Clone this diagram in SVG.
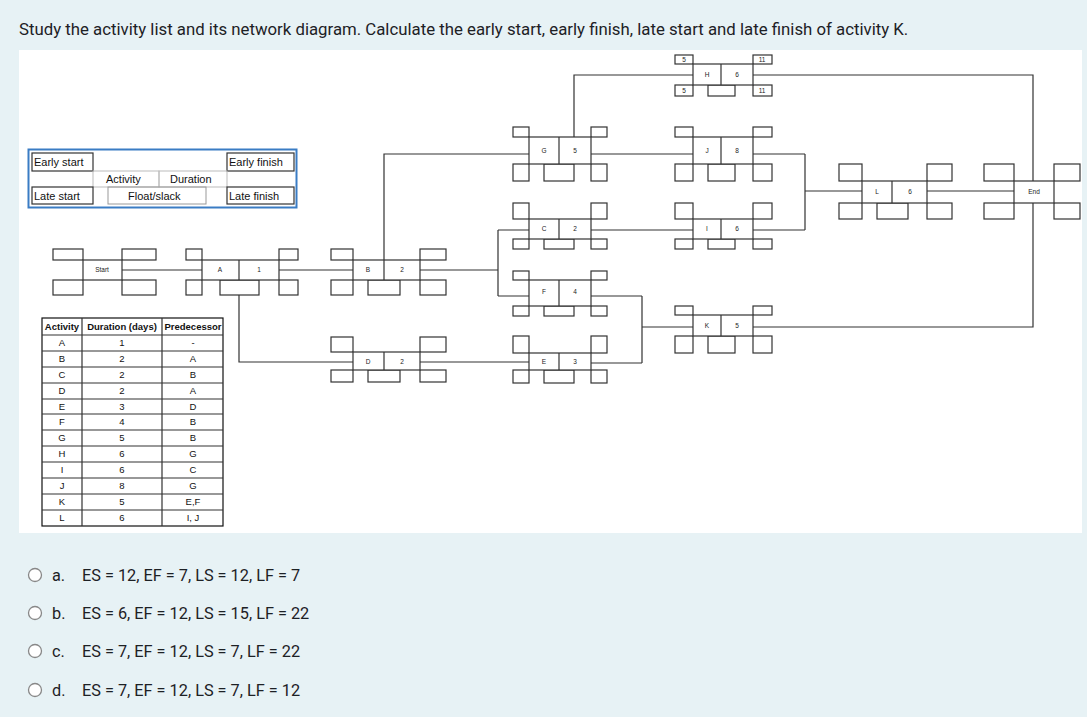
<svg xmlns="http://www.w3.org/2000/svg" width="1087" height="717" viewBox="0 0 1087 717">
<style>
.b{fill:#fff;stroke:#333;stroke-width:1.2}
.c{fill:none;stroke:#333;stroke-width:1.2}
.nl{font-family:"Liberation Sans",Arial,sans-serif;font-size:6.5px;fill:#222;text-anchor:middle}
.lg{font-family:"Liberation Sans",Arial,sans-serif;font-size:11px;fill:#111}
.tb{font-family:"Liberation Sans",Arial,sans-serif;font-size:9.5px;fill:#111;text-anchor:middle}
.q{font-family:Roboto,"Liberation Sans",sans-serif;font-size:16.8px;fill:#1d2125}
.o{font-family:Roboto,"Liberation Sans",sans-serif;font-size:16.3px;fill:#1d2125}
</style>
<rect width="1087" height="717" fill="#e7f2f5"/>
<text class="q" x="19" y="35">Study the activity list and its network diagram. Calculate the early start, early finish, late start and late finish of activity K.</text>
<rect x="19" y="50" width="1063" height="483" fill="#fff"/>

<g id="legend">
<rect x="28.5" y="149.5" width="268" height="58" fill="#fff" stroke="#3a7cc4" stroke-width="2"/>
<rect x="32" y="153" width="61" height="18" class="b"/>
<rect x="227" y="153" width="67" height="18" class="b"/>
<rect x="93" y="171" width="66" height="16" fill="none" stroke="#bbb"/>
<rect x="159" y="171" width="68" height="16" fill="none" stroke="#bbb"/>
<rect x="32" y="187" width="61" height="17" class="b"/>
<rect x="108" y="187" width="98" height="17" fill="none" stroke="#999"/>
<rect x="227" y="187" width="67" height="17" class="b"/>
<text class="lg" x="34" y="166">Early start</text>
<text class="lg" x="229" y="166">Early finish</text>
<text class="lg" x="106" y="183">Activity</text>
<text class="lg" x="170" y="183">Duration</text>
<text class="lg" x="34" y="200">Late start</text>
<text class="lg" x="128" y="200">Float/slack</text>
<text class="lg" x="229" y="200">Late finish</text>
</g>

<g id="table">
<rect x="42" y="318" width="181" height="208" fill="#fff" stroke="#111" stroke-width="1.2"/>
<path class="c" d="M82 318V526M162 318V526M42 335H223M42 351H223M42 367H223M42 383H223M42 399H223M42 414H223M42 430H223M42 446H223M42 462H223M42 478H223M42 494H223M42 510H223"/>
<g font-weight="bold"><text class="tb" x="62" y="330">Activity</text><text class="tb" x="122" y="330">Duration (days)</text><text class="tb" x="193" y="330">Predecessor</text></g>
<text class="tb" x="62" y="346">A</text><text class="tb" x="122" y="346">1</text><text class="tb" x="193" y="346">-</text>
<text class="tb" x="62" y="362">B</text><text class="tb" x="122" y="362">2</text><text class="tb" x="193" y="362">A</text>
<text class="tb" x="62" y="378">C</text><text class="tb" x="122" y="378">2</text><text class="tb" x="193" y="378">B</text>
<text class="tb" x="62" y="394">D</text><text class="tb" x="122" y="394">2</text><text class="tb" x="193" y="394">A</text>
<text class="tb" x="62" y="410">E</text><text class="tb" x="122" y="410">3</text><text class="tb" x="193" y="410">D</text>
<text class="tb" x="62" y="425">F</text><text class="tb" x="122" y="425">4</text><text class="tb" x="193" y="425">B</text>
<text class="tb" x="62" y="441">G</text><text class="tb" x="122" y="441">5</text><text class="tb" x="193" y="441">B</text>
<text class="tb" x="62" y="457">H</text><text class="tb" x="122" y="457">6</text><text class="tb" x="193" y="457">G</text>
<text class="tb" x="62" y="473">I</text><text class="tb" x="122" y="473">6</text><text class="tb" x="193" y="473">C</text>
<text class="tb" x="62" y="489">J</text><text class="tb" x="122" y="489">8</text><text class="tb" x="193" y="489">G</text>
<text class="tb" x="62" y="505">K</text><text class="tb" x="122" y="505">5</text><text class="tb" x="193" y="505">E,F</text>
<text class="tb" x="62" y="521">L</text><text class="tb" x="122" y="521">6</text><text class="tb" x="193" y="521">I, J</text>
</g>

<g id="connectors" class="c">
<path class="c" d="M122 270H202M279 270H353M239 295V362H353M384 280V154H529M420 270H498M498 230V296M498 230H529M498 296H529M420 362H529"/>
<path class="c" d="M574 137V75H693M591 154H693M591 230H693M591 296H642M591 363H642M642 296V363M642 327H693"/>
<path class="c" d="M753 154H805M753 230H805M805 154V230M805 191H862M927 191H1014M753 75H1033V181M753 327H1033V203"/>
</g>

<g id="node-start">
<rect class="b" x="53" y="249" width="30" height="11"/><rect class="b" x="122" y="249" width="34" height="11"/>
<rect class="b" x="53" y="280" width="30" height="15"/><rect class="b" x="122" y="280" width="34" height="15"/>
<rect class="b" x="83" y="260" width="39" height="20"/>
<text class="nl" x="102" y="272">Start</text>
</g>
<g id="node-A">
<rect class="b" x="186" y="249" width="16" height="11"/><rect class="b" x="279" y="249" width="19" height="11"/>
<rect class="b" x="186" y="280" width="16" height="15"/><rect class="b" x="279" y="280" width="19" height="15"/>
<rect class="b" x="220" y="280" width="39" height="15"/>
<rect class="b" x="202" y="260" width="77" height="20"/><path class="c" d="M239 260V280"/>
<text class="nl" x="220" y="272">A</text><text class="nl" x="259" y="272">1</text>
</g>
<g id="node-B">
<rect class="b" x="331" y="249" width="22" height="11"/><rect class="b" x="420" y="249" width="26" height="11"/>
<rect class="b" x="331" y="280" width="22" height="15"/><rect class="b" x="420" y="280" width="26" height="15"/>
<rect class="b" x="368" y="280" width="32" height="15"/>
<rect class="b" x="353" y="260" width="67" height="20"/><path class="c" d="M384 260V280"/>
<text class="nl" x="368" y="272">B</text><text class="nl" x="402" y="272">2</text>
</g>
<g id="node-D">
<rect class="b" x="331" y="337" width="22" height="15"/><rect class="b" x="420" y="337" width="26" height="15"/>
<rect class="b" x="331" y="370" width="22" height="12"/><rect class="b" x="420" y="370" width="26" height="12"/>
<rect class="b" x="368" y="370" width="32" height="12"/>
<rect class="b" x="353" y="352" width="67" height="18"/><path class="c" d="M384 352V370"/>
<text class="nl" x="368" y="364">D</text><text class="nl" x="402" y="364">2</text>
</g>
<g id="node-G">
<rect class="b" x="513" y="127" width="16" height="10"/><rect class="b" x="591" y="127" width="16" height="10"/>
<rect class="b" x="513" y="164" width="16" height="17"/><rect class="b" x="591" y="164" width="16" height="17"/>
<rect class="b" x="544" y="164" width="30" height="17"/>
<rect class="b" x="529" y="137" width="62" height="27"/><path class="c" d="M559 137V164"/>
<text class="nl" x="544" y="153">G</text><text class="nl" x="575" y="153">5</text>
</g>
<g id="node-C">
<rect class="b" x="513" y="203" width="16" height="16"/><rect class="b" x="591" y="203" width="16" height="16"/>
<rect class="b" x="513" y="239" width="16" height="10"/><rect class="b" x="591" y="239" width="16" height="10"/>
<rect class="b" x="544" y="239" width="30" height="10"/>
<rect class="b" x="529" y="219" width="62" height="20"/><path class="c" d="M559 219V239"/>
<text class="nl" x="544" y="231">C</text><text class="nl" x="575" y="231">2</text>
</g>
<g id="node-F">
<rect class="b" x="513" y="271" width="16" height="9"/><rect class="b" x="591" y="271" width="16" height="9"/>
<rect class="b" x="513" y="306" width="16" height="10"/><rect class="b" x="591" y="306" width="16" height="10"/>
<rect class="b" x="544" y="306" width="30" height="10"/>
<rect class="b" x="529" y="280" width="62" height="26"/><path class="c" d="M559 280V306"/>
<text class="nl" x="544" y="294">F</text><text class="nl" x="575" y="294">4</text>
</g>
<g id="node-E">
<rect class="b" x="513" y="336" width="16" height="17"/><rect class="b" x="591" y="336" width="16" height="17"/>
<rect class="b" x="513" y="370" width="16" height="13"/><rect class="b" x="591" y="370" width="16" height="13"/>
<rect class="b" x="544" y="370" width="30" height="13"/>
<rect class="b" x="529" y="353" width="62" height="17"/><path class="c" d="M559 353V370"/>
<text class="nl" x="544" y="364">E</text><text class="nl" x="575" y="364">3</text>
</g>
<g id="node-H">
<rect class="b" x="675" y="55" width="18" height="9"/><rect class="b" x="753" y="55" width="19" height="9"/>
<rect class="b" x="675" y="85" width="18" height="11"/><rect class="b" x="753" y="85" width="19" height="11"/>
<rect class="b" x="708" y="85" width="27" height="11"/>
<rect class="b" x="693" y="64" width="60" height="21"/><path class="c" d="M721 64V85"/>
<text class="nl" x="707" y="77">H</text><text class="nl" x="737" y="77">6</text>
<text class="nl" x="684" y="62">5</text><text class="nl" x="762" y="62">11</text>
<text class="nl" x="684" y="93">5</text><text class="nl" x="762" y="93">11</text>
</g>
<g id="node-J">
<rect class="b" x="675" y="127" width="18" height="10"/><rect class="b" x="753" y="127" width="19" height="10"/>
<rect class="b" x="675" y="164" width="18" height="17"/><rect class="b" x="753" y="164" width="19" height="17"/>
<rect class="b" x="708" y="164" width="27" height="17"/>
<rect class="b" x="693" y="137" width="60" height="27"/><path class="c" d="M721 137V164"/>
<text class="nl" x="707" y="153">J</text><text class="nl" x="737" y="153">8</text>
</g>
<g id="node-I">
<rect class="b" x="675" y="203" width="18" height="16"/><rect class="b" x="753" y="203" width="19" height="16"/>
<rect class="b" x="675" y="239" width="18" height="10"/><rect class="b" x="753" y="239" width="19" height="10"/>
<rect class="b" x="708" y="239" width="27" height="10"/>
<rect class="b" x="693" y="219" width="60" height="20"/><path class="c" d="M721 219V239"/>
<text class="nl" x="707" y="231">I</text><text class="nl" x="737" y="231">6</text>
</g>
<g id="node-K">
<rect class="b" x="675" y="306" width="18" height="9"/><rect class="b" x="753" y="306" width="19" height="9"/>
<rect class="b" x="675" y="336" width="18" height="17"/><rect class="b" x="753" y="336" width="19" height="17"/>
<rect class="b" x="708" y="336" width="27" height="17"/>
<rect class="b" x="693" y="315" width="60" height="21"/><path class="c" d="M721 315V336"/>
<text class="nl" x="707" y="328">K</text><text class="nl" x="737" y="328">5</text>
</g>
<g id="node-L">
<rect class="b" x="839" y="164" width="23" height="17"/><rect class="b" x="927" y="164" width="25" height="17"/>
<rect class="b" x="839" y="203" width="23" height="16"/><rect class="b" x="927" y="203" width="25" height="16"/>
<rect class="b" x="877" y="203" width="31" height="16"/>
<rect class="b" x="862" y="181" width="65" height="22"/><path class="c" d="M892 181V203"/>
<text class="nl" x="877" y="194">L</text><text class="nl" x="910" y="194">6</text>
</g>
<g id="node-end">
<rect class="b" x="984" y="164" width="30" height="17"/><rect class="b" x="1054" y="164" width="26" height="17"/>
<rect class="b" x="984" y="203" width="30" height="16"/><rect class="b" x="1054" y="203" width="26" height="16"/>
<rect class="b" x="1014" y="181" width="40" height="22"/>
<text class="nl" x="1034" y="194">End</text>
</g>

<g id="options">
<circle cx="35" cy="575" r="6.5" fill="#fff" stroke="#888" stroke-width="1.3"/>
<circle cx="35" cy="613" r="6.5" fill="#fff" stroke="#888" stroke-width="1.3"/>
<circle cx="35" cy="651" r="6.5" fill="#fff" stroke="#888" stroke-width="1.3"/>
<circle cx="35" cy="690" r="6.5" fill="#fff" stroke="#888" stroke-width="1.3"/>
<text class="o" x="52" y="581">a.</text><text class="o" x="82" y="581">ES = 12, EF = 7, LS = 12, LF = 7</text>
<text class="o" x="52" y="619">b.</text><text class="o" x="82" y="619">ES = 6, EF = 12, LS = 15, LF = 22</text>
<text class="o" x="52" y="657">c.</text><text class="o" x="82" y="657">ES = 7, EF = 12, LS = 7, LF = 22</text>
<text class="o" x="52" y="696">d.</text><text class="o" x="82" y="696">ES = 7, EF = 12, LS = 7, LF = 12</text>
</g>
</svg>
